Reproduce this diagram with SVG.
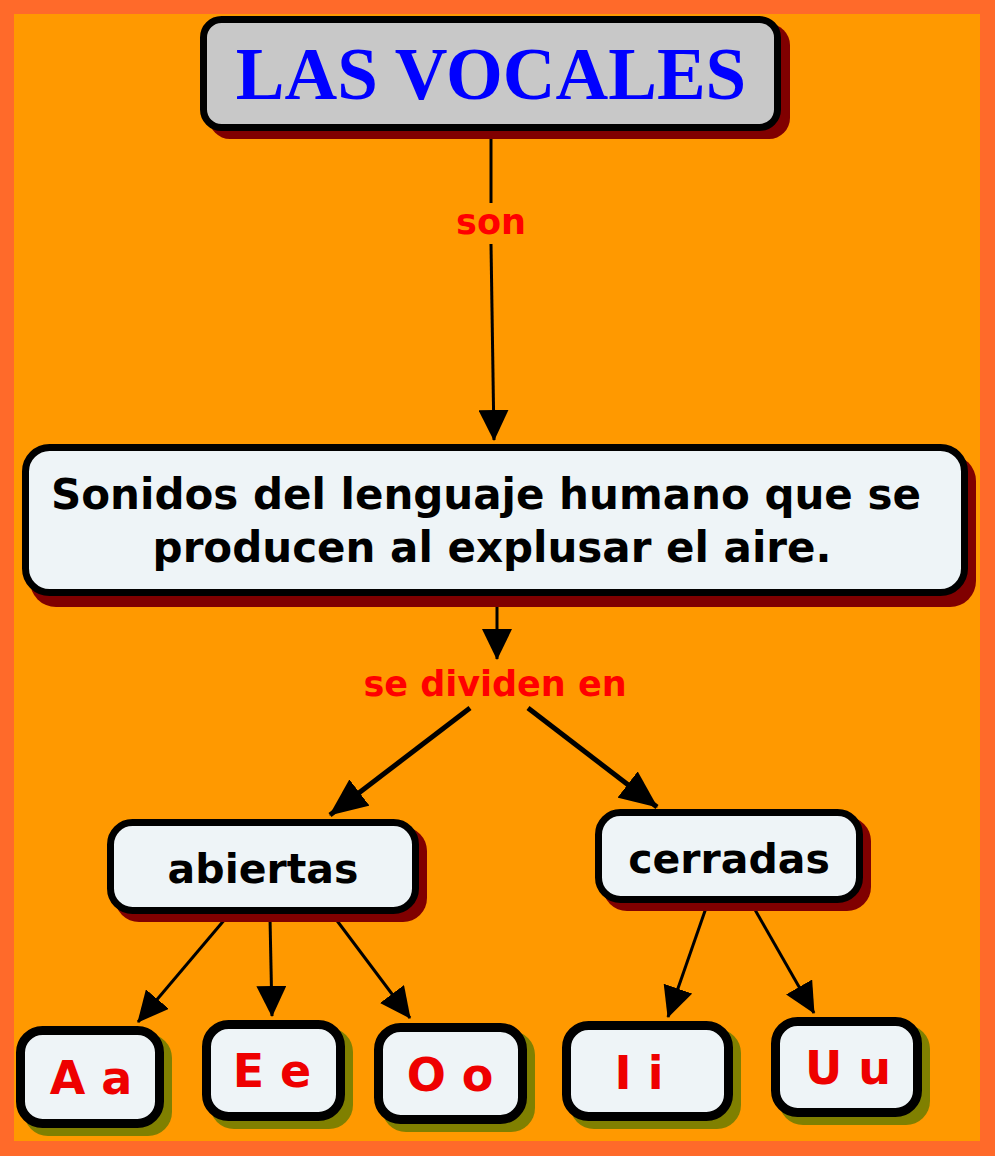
<svg xmlns="http://www.w3.org/2000/svg" width="995" height="1156" viewBox="0 0 995 1156">
<style>
.box{fill:#EEF4F7;stroke:#000;stroke-width:7}
.sm{stroke-width:9}
.shr{fill:#800000}
.sho{fill:#808000}
.nt{font-family:"DejaVu Sans","Verdana",sans-serif;font-weight:bold;font-size:41px;fill:#000;text-anchor:middle}
.big{font-size:42px}
.lt{font-family:"DejaVu Sans","Verdana",sans-serif;font-weight:bold;font-size:35px;fill:#FF0000;text-anchor:middle}
.vt{font-family:"DejaVu Sans","Verdana",sans-serif;font-weight:bold;font-size:46px;fill:#EE0000;text-anchor:middle}
.ln{stroke:#000;stroke-width:3;fill:none}
.lnb{stroke:#000;stroke-width:5;fill:none}
</style>
<defs>
<marker id="ah" viewBox="0 0 31 30" markerWidth="31" markerHeight="30" refX="30" refY="15" orient="auto" markerUnits="userSpaceOnUse"><path d="M0,0 L31,15 L0,30 z" fill="#000"/></marker>
<marker id="ahb" viewBox="0 0 38 33" markerWidth="38" markerHeight="33" refX="37" refY="16.5" orient="auto" markerUnits="userSpaceOnUse"><path d="M0,0 L38,16.5 L0,33 z" fill="#000"/></marker>
</defs>
<rect x="0" y="0" width="995" height="1156" fill="#FF6A2A"/>
<rect x="14" y="14" width="966" height="1127" fill="#FF9900"/>
<g id="connectors">
<line class="ln" x1="491" y1="130" x2="491" y2="203"/>
<line class="ln" x1="491" y1="244" x2="494" y2="440" marker-end="url(#ah)"/>
<line class="ln" x1="497" y1="606" x2="497" y2="659" marker-end="url(#ah)"/>
<line class="lnb" x1="470" y1="708" x2="330" y2="815" marker-end="url(#ahb)"/>
<line class="lnb" x1="528" y1="708" x2="657" y2="807" marker-end="url(#ahb)"/>
<line class="ln" x1="226" y1="918" x2="138" y2="1022" marker-end="url(#ah)"/>
<line class="ln" x1="270" y1="918" x2="272" y2="1016" marker-end="url(#ah)"/>
<line class="ln" x1="335" y1="918" x2="410" y2="1018" marker-end="url(#ah)"/>
<line class="ln" x1="706" y1="908" x2="668" y2="1017" marker-end="url(#ah)"/>
<line class="ln" x1="754" y1="908" x2="814" y2="1013" marker-end="url(#ah)"/>
<text class="lt" x="491" y="234">son</text>
<text class="lt" x="495" y="696">se dividen en</text>
</g>
<g id="node-title">
<rect class="shr" x="209" y="24" width="581" height="115" rx="21"/>
<rect x="203.5" y="19.5" width="574" height="108" rx="18" fill="#C8C8C8" stroke="#000" stroke-width="7"/>
<text x="491" y="99" font-family="'Liberation Serif','Times New Roman',serif" font-weight="bold" font-size="73" fill="#0000FF" text-anchor="middle">LAS VOCALES</text>
</g>
<g id="node-sonidos">
<rect class="shr" x="30" y="455" width="946" height="152" rx="26"/>
<rect class="box" x="25.5" y="447.5" width="939" height="145" rx="24"/>
<text class="nt big" x="486" y="509">Sonidos del lenguaje humano que se</text>
<text class="nt big" x="492" y="562">producen al explusar el aire.</text>
</g>
<g id="node-abiertas">
<rect class="shr" x="115" y="827" width="312" height="95" rx="24"/>
<rect class="box" x="110.5" y="822.5" width="305" height="88" rx="22"/>
<text class="nt" x="263" y="883">abiertas</text>
</g>
<g id="node-cerradas">
<rect class="shr" x="603" y="817" width="268" height="94" rx="24"/>
<rect class="box" x="598.5" y="812.5" width="261" height="87" rx="22"/>
<text class="nt" x="729" y="873">cerradas</text>
</g>
<g id="node-a">
<rect class="sho" x="24" y="1034" width="148" height="102" rx="24"/>
<rect class="box sm" x="20.5" y="1030.5" width="139" height="93" rx="22"/>
<text class="vt" x="91" y="1094">A a</text>
</g>
<g id="node-e">
<rect class="sho" x="210" y="1028" width="143" height="101" rx="24"/>
<rect class="box sm" x="206.5" y="1024.5" width="134" height="92" rx="22"/>
<text class="vt" x="272" y="1087">E e</text>
</g>
<g id="node-o">
<rect class="sho" x="382" y="1031" width="153" height="101" rx="24"/>
<rect class="box sm" x="378.5" y="1027.5" width="144" height="92" rx="22"/>
<text class="vt" x="450" y="1091">O o</text>
</g>
<g id="node-i">
<rect class="sho" x="570" y="1029" width="171" height="100" rx="24"/>
<rect class="box sm" x="566.5" y="1025.5" width="162" height="91" rx="22"/>
<text class="vt" x="639" y="1089">I i</text>
</g>
<g id="node-u">
<rect class="sho" x="779" y="1025" width="151" height="100" rx="24"/>
<rect class="box sm" x="775.5" y="1021.5" width="142" height="91" rx="22"/>
<text class="vt" x="848" y="1084">U u</text>
</g>
</svg>
